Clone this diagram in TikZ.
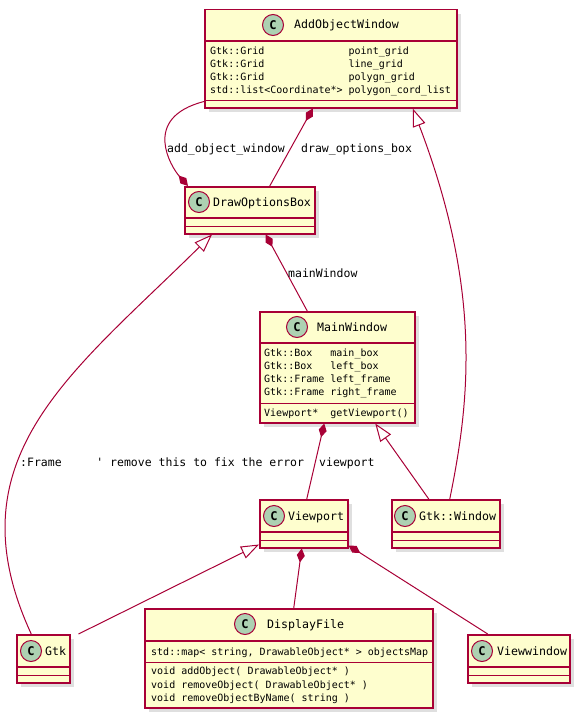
\documentclass[tikz,border=0pt]{standalone}
\usepackage{fontspec}
\newfontfamily\umlmono{DejaVu Sans Mono}
\usetikzlibrary{arrows.meta,shadows,positioning}
\definecolor{umlred}{HTML}{A80036}
\definecolor{umlfill}{HTML}{FEFECE}
\definecolor{umlcirc}{HTML}{ADD1B2}

\begin{document}
\begin{tikzpicture}[x=1pt,y=-1pt,
		cls/.style={draw=umlred,line width=1.5pt,fill=umlfill,anchor=north west,inner sep=0pt,
			drop shadow={shadow xshift=4pt,shadow yshift=-4pt,opacity=0.25}},
		sep/.style={draw=umlred,line width=1.5pt},
		circ/.style={circle,draw=umlred,line width=1pt,fill=umlcirc,minimum size=21pt,inner sep=0pt,
			font=\umlmono\bfseries\fontsize{12}{12}\selectfont},
		title/.style={anchor=base west,inner sep=0pt,font=\umlmono\fontsize{11.6}{14}\selectfont},
		attr/.style={anchor=base west,inner sep=0pt,font=\umlmono\fontsize{10}{13}\selectfont},
		lbl/.style={anchor=base west,inner sep=0pt,font=\umlmono\fontsize{11.5}{14}\selectfont},
		link/.style={draw=umlred,line width=1pt},
		has/.style={link,-{Diamond[length=14pt,width=8pt]}},
		isa/.style={link,-{Triangle[length=18pt,width=13pt,fill=white]}}]
				\useasboundingbox (0,0) rectangle (579,717);

				\node[cls,minimum width=252pt,minimum height=98pt] (AOW) at (204,9) {};
				\draw[sep] ([yshift=-32pt]AOW.north west) -- ([yshift=-32pt]AOW.north east);
				\draw[sep] ([yshift=8pt]AOW.south west) -- ([yshift=8pt]AOW.south east);
				\node[circ] (AOWc) at (273,25) {C};
				\node[title] (AOWt) at (294,29) {AddObjectWindow};
				\node[attr] (AOWa) at (210,54.5) {\begin{tabular}[t]{@{}l@{\ }l@{}}
					Gtk::Grid & point\_grid\\
					Gtk::Grid & line\_grid\\
					Gtk::Grid & polygn\_grid\\
					std::list<Coordinate*> & polygon\_cord\_list
				\end{tabular}};

				\node[cls,minimum width=130pt,minimum height=47pt] (DOB) at (184,186) {};
				\draw[sep] ([yshift=-32pt]DOB.north west) -- ([yshift=-32pt]DOB.north east);
				\draw[sep] ([yshift=8pt]DOB.south west) -- ([yshift=8pt]DOB.south east);
				\node[circ] (DOBc) at (199,202) {C};
				\node[title] (DOBt) at (213,206) {DrawOptionsBox};

				\node[cls,minimum width=155pt,minimum height=111pt] (MW) at (259,311) {};
				\draw[sep] ([yshift=-32pt]MW.north west) -- ([yshift=-32pt]MW.north east);
				\draw[sep] ([yshift=20pt]MW.south west) -- ([yshift=20pt]MW.south east);
				\node[circ] (MWc) at (297,327) {C};
				\node[title] (MWt) at (317,331) {MainWindow};
				\node[attr] (MWa) at (264,356.5) {\begin{tabular}[t]{@{}l@{\ }l@{}}
					Gtk::Box & main\_box\\
					Gtk::Box & left\_box\\
					Gtk::Frame & left\_frame\\
					Gtk::Frame & right\_frame
				\end{tabular}};
				\node[attr] (MWm) at (264,416.5) {Viewport*\ \ getViewport()};

				\node[cls,minimum width=88pt,minimum height=48pt] (VP) at (259,499) {};
				\draw[sep] ([yshift=-33pt]VP.north west) -- ([yshift=-33pt]VP.north east);
				\draw[sep] ([yshift=8pt]VP.south west) -- ([yshift=8pt]VP.south east);
				\node[circ] (VPc) at (274,516) {C};
				\node[title] (VPt) at (288,520) {Viewport};

				\node[cls,minimum width=108pt,minimum height=48pt] (GW) at (391,499) {};
				\draw[sep] ([yshift=-33pt]GW.north west) -- ([yshift=-33pt]GW.north east);
				\draw[sep] ([yshift=8pt]GW.south west) -- ([yshift=8pt]GW.south east);
				\node[circ] (GWc) at (405,516) {C};
				\node[title] (GWt) at (419,520) {Gtk::Window};

				\node[cls,minimum width=53pt,minimum height=48pt] (GTK) at (16,634) {};
				\draw[sep] ([yshift=-33pt]GTK.north west) -- ([yshift=-33pt]GTK.north east);
				\draw[sep] ([yshift=8pt]GTK.south west) -- ([yshift=8pt]GTK.south east);
				\node[circ] (GTKc) at (31,651) {C};
				\node[title] (GTKt) at (45,655) {Gtk};

				\node[cls,minimum width=288pt,minimum height=99pt] (DF) at (144,608) {};
				\draw[sep] ([yshift=-33pt]DF.north west) -- ([yshift=-33pt]DF.north east);
				\draw[sep] ([yshift=46pt]DF.south west) -- ([yshift=46pt]DF.south east);
				\node[circ] (DFc) at (245,624) {C};
				\node[title] (DFt) at (267,628) {DisplayFile};
				\node[attr] (DFa) at (151,655.5) {std::map< string, DrawableObject* > objectsMap};
				\node[attr,font=\umlmono\fontsize{10}{13.5}\selectfont] (DFm) at (151,674.5) {\begin{tabular}[t]{@{}l@{}}
					void addObject( DrawableObject* )\\
					void removeObject( DrawableObject* )\\
					void removeObjectByName( string )
				\end{tabular}};

				\node[cls,minimum width=102pt,minimum height=48pt] (VW) at (467,634) {};
				\draw[sep] ([yshift=-33pt]VW.north west) -- ([yshift=-33pt]VW.north east);
				\draw[sep] ([yshift=8pt]VW.south west) -- ([yshift=8pt]VW.south east);
				\node[circ] (VWc) at (482,651) {C};
				\node[title] (VWt) at (497,655) {Viewwindow};

				\draw[has] ([yshift=7pt]AOW.south west) .. controls (140,118) and (172,168) .. ([xshift=4pt]DOB.north west);
				\draw[has] ([xshift=20pt]DOB.north) -- ([xshift=-18pt]AOW.south);
				\draw[isa] ([xshift=4pt]GW.north) .. controls (470,400) and (482,290) .. ([xshift=82pt]AOW.south);
				\draw[has] ([xshift=-30pt]MW.north) -- ([xshift=16pt]DOB.south);
				\draw[isa] ([xshift=-12pt]GTK.north) .. controls (-50,458) and (72,373) .. ([xshift=28pt]DOB.south west);
				\draw[has] ([xshift=3pt]VP.north) -- ([xshift=-13pt]MW.south);
				\draw[isa] ([xshift=-17pt]GW.north) -- ([xshift=38pt]MW.south);
				\draw[isa] ([xshift=8pt]GTK.north east) -- ([yshift=4pt]VP.south west);
				\draw[has] ([xshift=5pt]DF.north) -- ([xshift=-2pt]VP.south);
				\draw[has] ([xshift=-31pt]VW.north) -- ([yshift=3pt]VP.south east);

				\node[lbl] (L1) at (167,152) {add\_object\_window};
				\node[lbl] (L2) at (301,152) {draw\_options\_box};
				\node[lbl] (L3) at (288,277) {mainWindow};
				\node[lbl] (L4) at (20,466) {:Frame\ \ \ \ \ \textquotesingle\ remove this to fix the error};
				\node[lbl] (L5) at (319,466) {viewport};
			\end{tikzpicture}
\end{document}
